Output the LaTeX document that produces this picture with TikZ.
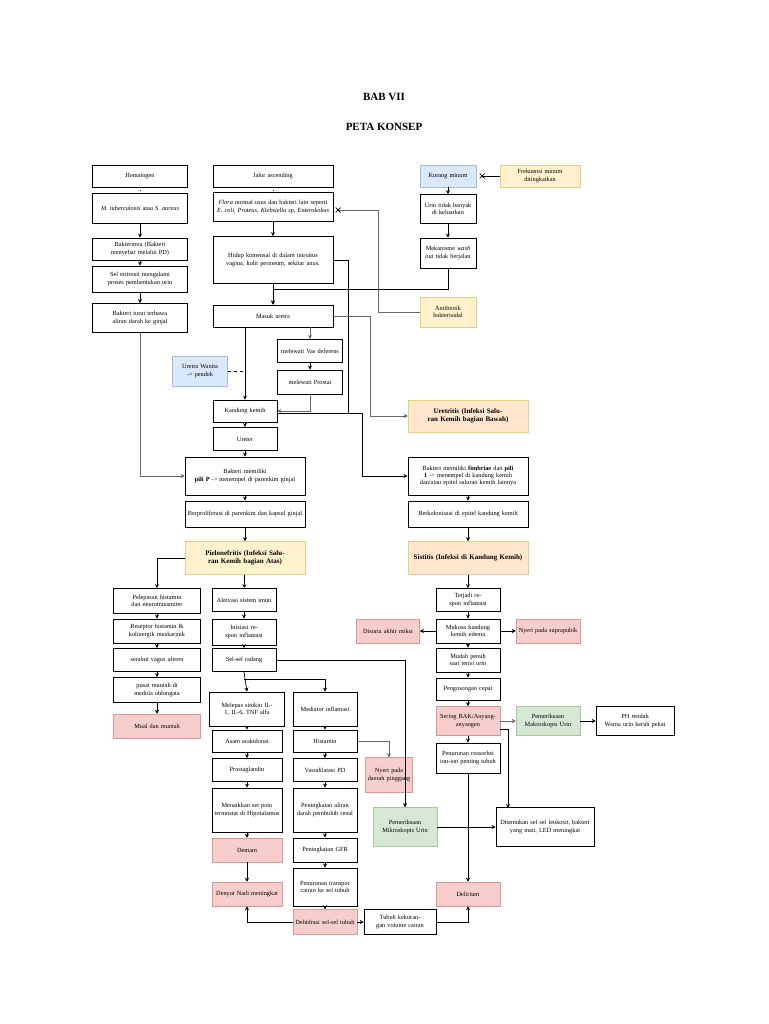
\documentclass[tikz,border=0pt]{standalone}
\usepackage{fontspec}
\setmainfont{Liberation Serif}
\usetikzlibrary{positioning,arrows.meta,calc}
\definecolor{bluef}{HTML}{DAE8FC}\definecolor{blued}{HTML}{6C8EBF}
\definecolor{yelf}{HTML}{FFF2CC}\definecolor{yeld}{HTML}{D6B656}
\definecolor{oraf}{HTML}{FFE6CC}\definecolor{orad}{HTML}{D79B00}
\definecolor{redf}{HTML}{F8CECC}\definecolor{redd}{HTML}{B85450}
\definecolor{grnf}{HTML}{D5E8D4}\definecolor{grnd}{HTML}{82B366}
\tikzset{
  box/.style={draw, rectangle, inner sep=1pt, align=center, line width=0.8pt,
    font=\fontsize{6.3}{7.4}\selectfont},
  sz/.code 2 args={\pgfmathsetmacro\tw{#1-4}\tikzset{minimum width=#1pt, minimum height=#2pt, text width=\tw pt}},
  blue/.style={box, fill=bluef, draw=blued!60, line width=0.5pt},
  yel/.style={box, fill=yelf, draw=yeld!70, line width=0.5pt},
  ora/.style={box, fill=oraf, draw=orad!50, line width=0.5pt, font=\fontsize{7}{8.5}\selectfont\bfseries},
  red/.style={box, fill=redf, draw=redd!60, line width=0.5pt},
  grn/.style={box, fill=grnf, draw=grnd!70, line width=0.5pt},
  arr/.style={-{Stealth[length=4pt,width=4pt]}, line width=0.7pt},
  lin/.style={line width=0.7pt},
  gry/.style={line width=0.6pt, draw=black!60},
}
\newcommand{\crossmark}[1]{\draw[line width=0.7pt] ($(#1)+(-2.5,-2.5)$) -- ($(#1)+(2.5,2.5)$) ($(#1)+(-2.5,2.5)$) -- ($(#1)+(2.5,-2.5)$);}
\begin{document}
\begin{tikzpicture}[x=1pt,y=-1pt]
  \useasboundingbox (0,0) rectangle (768,1024);
  \node (t1) at (384,97) {\fontsize{11}{13}\selectfont\bfseries BAB VII};
  \node (t2) at (384,127) {\fontsize{11}{13}\selectfont\bfseries PETA KONSEP};

  % hematogen
  \node (hema) [box, sz={95}{22}] at (140,176) {Hematogen};
  \node (mtb) [box, sz={95}{30}] at (140,208) {\textit{M. tuberculosis} atau \textit{S. aureus}};
  \node (bakt) [box, sz={95}{22}] at (140,249) {Bakterimia (Bakteri menyebar melalui PD)};
  \node (eri) [box, sz={95}{26}] at (140,279) {Sel eritrosit mengalami proses pembentukan urin};
  \node (turut) [box, sz={95}{29}] at (140,318) {Bakteri turut terbawa aliran darah ke ginjal};

  % ascending
  \node (jalur) [box, sz={120}{22}] at (273,176) {Jalur ascending};
  \node (flora) [box, sz={120}{29}] at (273,207) {\textit{Flora} normal usus dan bakteri lain seperti \textit{E. coli, Proteus, Klebsiella sp, Enterokokus}};
  \node (hidup) [box, sz={120}{47}] at (273,260) {Hidup komensal di dalam introitus vagina, kulit perineum, sekitar anus.};
  \node (masuk) [box, sz={120}{22}] at (273,316) {Masuk uretra};
  \node (vas) [box, sz={65}{23}] at (310,351) {melewati Vas deferens};
  \node (pros) [box, sz={65}{24}] at (310,382) {melewati Prostat};
  \node (wanita) [blue, sz={55}{30}] at (200,371) {Uretra Wanita -> pendek};
  \node (kand) [box, sz={64}{22}] at (245,411) {Kandung kemih};
  \node (ureter) [box, sz={64}{23}] at (245,439) {Ureter};
  \node (pili) [box, sz={120}{38}] at (245,476) {Bakteri memiliki\\\textbf{pili P} -> menempel di parenkim ginjal};
  \node (prolif) [box, sz={120}{26}] at (245,514) {Berproliferasi di parenkim dan kapsul ginjal};
  \node (pielo) [ora, fill=yelf, draw=yeld!70, sz={120}{33}] at (245,558) {Pielonefritis (Infeksi Saluran Kemih bagian Atas)};

  % kurang minum
  \node (kurang) [blue, sz={56}{22}] at (448,176) {Kurang minum};
  \node (frek) [yel, sz={80}{22}] at (540,176) {Frekuensi minum ditingkatkan};
  \node (urin) [box, sz={56}{29}] at (448,209) {Urin tidak banyak di keluarkan};
  \node (wash) [box, sz={56}{30}] at (448,253) {Mekanisme \textit{wash out} tidak berjalan};
  \node (anti) [yel, sz={56}{30}] at (448,312) {Antibiotik bakterisidal};
  \node (uret) [ora, sz={120}{32}] at (468,416) {Uretritis (Infeksi Saluran Kemih bagian Bawah)};
  \node (fimb) [box, sz={120}{38}] at (468,476) {Bakteri memiliki \textbf{fimbriae} dan \textbf{pili 1} -> menempel di kandung kemih dan/atau epitel saluran kemih lainnya};
  \node (kolo) [box, sz={120}{26}] at (468,514) {Berkolonisasi di epitel kandung kemih};
  \node (sist) [ora, sz={120}{33}] at (468,558) {Sistitis (Infeksi di Kandung Kemih)};

  % pielonefritis
  \node (lepas) [box, sz={87}{25}] at (157,601) {Pelepasan histamin dan neurotransmiter};
  \node (resep) [box, sz={87}{24}] at (157,631) {Reseptor histamin \& kolinergik muskarinik};
  \node (serab) [box, sz={87}{23}] at (157,660) {serabut vagus aferen};
  \node (pusat) [box, sz={87}{25}] at (157,690) {pusat muntah di medula oblongata};
  \node (mual) [red, sz={87}{24}] at (157,726) {Mual dan muntah};
  \node (aktiv) [box, sz={64}{23}] at (244,600) {Aktivasi sistem imun};
  \node (inis) [box, sz={64}{26}] at (244,632) {Inisiasi respon inflamasi};
  \node (radang) [box, sz={64}{23}] at (244,660) {Sel-sel radang};
  \node (sito) [box, sz={75}{34}] at (247,709) {Melepas sitokin IL-1, IL-6, TNF alfa};
  \node (asam) [box, sz={70}{22}] at (247,741) {Asam arakidonat};
  \node (prost) [box, sz={70}{23}] at (247,770) {Prostaglandin};
  \node (naik) [box, sz={70}{44}] at (247,810) {Menaikkan set poin termostat di Hipotalamus};
  \node (demam) [red, sz={70}{24}] at (247,850) {Demam};
  \node (denyut) [red, sz={70}{24}] at (247,894) {Denyut Nadi meningkat};
  \node (medi) [box, sz={64}{34}] at (325,709) {Mediator inflamasi};
  \node (hist) [box, sz={64}{22}] at (325,741) {Histamin};
  \node (vaso) [box, sz={64}{23}] at (325,770) {Vasodilatasi PD};
  \node (aliran) [box, sz={64}{44}] at (325,810) {Peningkatan aliran darah pembuluh renal};
  \node (gfr) [box, sz={64}{24}] at (325,850) {Peningkatan GFR};
  \node (trans) [box, sz={64}{38}] at (325,887) {Penurunan transpor cairan ke sel tubuh};
  \node (dehi) [red, sz={64}{25}] at (325,922) {Dehidrasi sel-sel tubuh};
  \node (tubuh) [box, line width=0.5pt, sz={72}{25}] at (400,922) {Tubuh kekurangan volume cairan};
  \node (pinggang) [red, sz={47}{35}] at (389,775) {Nyeri pada daerah pinggang};
  \node (mikro) [grn, sz={64}{39}] at (405,827) {Pemeriksaan Mikroskopis Urin};

  % sistitis
  \node (terjadi) [box, sz={64}{23}] at (468,600) {Terjadi respon inflamasi};
  \node (mukosa) [box, sz={64}{24}] at (468,631) {Mukosa kandung kemih edema};
  \node (disuria) [red, sz={63}{24}] at (388,631) {Disuria akhir miksi};
  \node (supra) [red, sz={64}{24}] at (548,631) {Nyeri pada suprapubik};
  \node (mudah) [box, sz={64}{24}] at (468,660) {Mudah penuh saat terisi urin};
  \node (kosong) [box, sz={64}{22}] at (468,689) {Pengosongan cepat};
  \node (sering) [red, sz={64}{29}] at (468,721) {Sering BAK/Anyang-anyangen};
  \node (makro) [grn, sz={64}{29}] at (548,721) {Pemeriksaan Makroskopis Urin};
  \node (ph) [box, line width=0.5pt, sz={78}{29}] at (635,721) {PH rendah\\Warna urin keruh pekat};
  \node (reab) [box, sz={64}{30}] at (468,758) {Penurunan reasorbsi ion-ion penting tubuh};
  \node (temu) [box, sz={98}{39}] at (545,827) {Ditemukan sel sel leukosit, bakteri yang mati, LED meningkat};
  \node (deli) [red, sz={64}{24}] at (468,894) {Delirium};

  % upper connectors
  \draw [dotted, lin] (hema) -- (mtb);
  \draw [dotted, lin] (jalur) -- (flora);
  \draw [arr] (mtb) -- (bakt);
  \draw [arr] (bakt) -- (eri);
  \draw [arr] (eri) -- (turut);
  \draw [arr, gry] (turut.south) |- (pili.west);
  \draw [arr] (flora) -- (hidup);
  \draw [arr] (hidup) -- (masuk);
  \draw [arr] (kurang) -- (urin);
  \draw [arr] (urin) -- (wash);
  \draw [arr] (wash.south) |- (273,289) -- (masuk.north);
  \draw [lin] (frek.west) -- (482,176); \crossmark{482,176}
  \draw [gry] (anti.west) -| (378,210) -- (338,210); \crossmark{338,210}
  \draw [arr] ([xshift=-28pt]masuk.south) -- ([xshift=0pt]kand.north);
  \draw [dashed, lin] (wanita.east) -- (245,371);
  \draw [arr, gry] ([xshift=37pt]masuk.south) -- (vas.north);
  \draw [arr] (vas) -- (pros);
  \draw [arr, gry] (pros.south) |- (kand.east);
  \draw [lin] (hidup.east) -| (348,413);
  \draw [arr, gry] (masuk.east) -| (370,416) -- (uret.west);
  \draw [arr] ([yshift=-2pt]kand.east) -| (362,476) -- (fimb.west);
  \draw [arr] (kand) -- (ureter);
  \draw [arr] (ureter) -- (pili);
  \draw [arr] (pili) -- (prolif);
  \draw [arr] (prolif) -- (pielo);
  \draw [arr] (fimb) -- (kolo);
  \draw [arr] (kolo) -- (sist);

  % lower connectors
  \draw [arr] (pielo.west) -| (lepas.north);
  \draw [arr] (pielo) -- (aktiv);
  \draw [arr] (lepas) -- (resep);
  \draw [arr] (resep) -- (serab);
  \draw [arr] (serab) -- (pusat);
  \draw [arr] (pusat) -- (mual);
  \draw [arr] (aktiv) -- (inis);
  \draw [arr] (inis) -- (radang);
  \draw [arr] (radang.east) -| (mikro.north);
  \draw [arr] (radang.south) -- (sito.north);
  \draw [arr] (244,679) -| (medi.north);
  \draw [arr] (sito) -- (asam);
  \draw [arr] (asam) -- (prost);
  \draw [arr] (prost) -- (naik);
  \draw [arr] (naik) -- (demam);
  \draw [arr] (demam) -- (denyut);
  \draw [arr] (medi) -- (hist);
  \draw [arr, gry] (hist.east) -| (pinggang.north);
  \draw [arr] (hist) -- (vaso);
  \draw [arr] (vaso) -- (aliran);
  \draw [arr] (aliran) -- (gfr);
  \draw [arr] (gfr) -- (trans);
  \draw [arr] (trans) -- (dehi);
  \draw [arr] (dehi.west) -| (denyut.south);
  \draw [arr] (dehi) -- (tubuh);
  \draw [arr] (tubuh.east) -| (deli.south);
  \draw [arr] (sist) -- (terjadi);
  \draw [arr] (terjadi) -- (mukosa);
  \draw [arr] (mukosa) -- (disuria);
  \draw [arr] (mukosa) -- (supra);
  \draw [arr] (mukosa) -- (mudah);
  \draw [arr] (mudah) -- (kosong);
  \draw [arr] (kosong) -- (sering);
  \draw [arr] (sering) -- (reab);
  \draw [arr, gry] (sering) -- (makro);
  \draw [arr] (makro) -- (ph);
  \draw [arr] ([yshift=-8pt]sering.east) -| (508,808);
  \draw [arr] (mikro) -- (temu);
  \draw [arr] (reab) -- (deli);
\end{tikzpicture}
\end{document}
